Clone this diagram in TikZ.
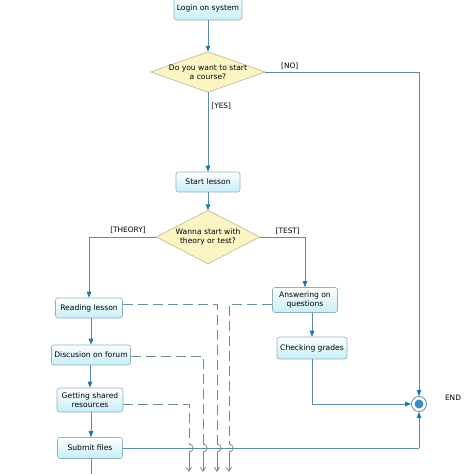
\documentclass[tikz,border=0pt]{standalone}
\usepackage{fontspec}
\setmainfont{DejaVu Sans}
\usetikzlibrary{arrows.meta,calc}
\definecolor{lineC}{HTML}{5A8DA5}
\definecolor{arrC}{HTML}{1A78B0}
\definecolor{boxB}{HTML}{8FB0BA}
\definecolor{boxF}{HTML}{C6EEF7}
\definecolor{diaF}{HTML}{FBF5C4}
\definecolor{diaB}{HTML}{BDB889}
\definecolor{dashC}{HTML}{6A8C98}
\tikzset{
  actbox/.style={draw=boxB, line width=0.6pt, rounded corners=2.5pt, top color=white, bottom color=boxF,
    align=center, inner sep=1pt, font=\fontsize{7.6}{9}\selectfont},
  decision/.style={inner sep=0pt, align=center, font=\fontsize{7.6}{9}\selectfont},
  flow/.style={draw=lineC, line width=0.8pt, -{Triangle[length=6pt,width=4.5pt,fill=arrC,color=arrC]}},
  plainflow/.style={draw=lineC, line width=0.8pt},
  dashflow/.style={draw=dashC, line width=0.8pt, dash pattern=on 10pt off 5pt},
  lbl/.style={font=\fontsize{7.4}{9}\selectfont, inner sep=0pt},
  barb/.style={draw=dashC, line width=0.8pt, -{Straight Barb[length=4pt,width=5pt]}}
}
\begin{document}
\begin{tikzpicture}[x=1pt,y=-1pt]
\useasboundingbox (0,0) rectangle (474,474);
% nodes
\node[actbox, minimum width=68pt, minimum height=24pt] (login) at (208,8) {Login on system};
\node[decision, minimum width=114pt, minimum height=40pt] (d1) at (208,72) {};
\node[actbox, minimum width=64pt, minimum height=20pt] (start) at (208,182) {Start lesson};
\node[decision, minimum width=103pt, minimum height=53pt] (d2) at (208,237) {};
\node[actbox, minimum width=67pt, minimum height=20pt] (read) at (89,308) {Reading lesson};
\node[actbox, minimum width=79pt, minimum height=20pt] (disc) at (91,355) {Discusion on forum};
\node[actbox, minimum width=66pt, minimum height=24pt] (share) at (90,400) {Getting shared\\resources};
\node[actbox, minimum width=65pt, minimum height=21pt] (submit) at (90,448) {Submit files};
\node[actbox, minimum width=65pt, minimum height=25pt] (answer) at (305,300) {Answering on\\questions};
\node[actbox, minimum width=70pt, minimum height=22pt] (check) at (312,348) {Checking grades};
\node[circle, draw=lineC, line width=0.8pt, fill=white, minimum size=15pt, inner sep=0pt] (end) at (419,404) {};
\fill[arrC!85] (end.center) circle (4.5pt);
\node[lbl] (endlbl) at (453,398) {END};
% diamonds
\path[fill=diaF, draw=diaB, line width=0.6pt] (d1.north) -- (d1.east) -- (d1.south) -- (d1.west) -- cycle;
\path[fill=diaF, draw=diaB, line width=0.6pt] (d2.north) -- (d2.east) -- (d2.south) -- (d2.west) -- cycle;
\node[decision] (d1t) at (d1) {Do you want to start\\a course?};
\node[decision] (d2t) at (d2) {Wanna start with\\theory or test?};
% coordinates
\coordinate (nocorner) at (419,72);
\coordinate (thcorner) at (89,237);
\coordinate (tscorner) at (305,237);
\coordinate (chkcorner) at (312,404);
\coordinate (subcorner) at (419,448);
% flows
\draw[flow] (login) -- (d1.north);
\draw[flow] (d1.south) -- (start.north) node[lbl, pos=0.17, right=3pt] (yes) {[YES]};
\draw[flow] (start) -- (d2.north);
\draw[plainflow] (d1.east) -- (nocorner) node[lbl, pos=0.16, above=2pt] (no) {[NO]};
\draw[flow] (nocorner) -- (end.north);
\draw[plainflow] (d2.west) -- (thcorner) node[lbl, pos=0.42, above=3pt] (th) {[THEORY]};
\draw[flow] (thcorner) -- (read.north);
\draw[plainflow] (d2.east) -- (tscorner) node[lbl, pos=0.62, above=2pt] (ts) {[TEST]};
\draw[flow] (tscorner) -- (answer.north);
\draw[flow] (read.south -| 91,0) -- (disc.north -| 91,0);
\draw[flow] (disc.south -| 90,0) -- (share.north -| 90,0);
\draw[flow] (share.south -| 91,0) -- (submit.north -| 91,0);
\draw[flow] (answer.south -| check.north) -- (check.north);
\draw[plainflow] (check.south) -- (chkcorner);
\draw[flow] (chkcorner) -- (end.west);
\draw[plainflow] (submit.east) -- (subcorner);
\draw[flow] (subcorner) -- (end.south);
\coordinate (subout) at (91,474);
\draw[plainflow] (submit.south -| 91,0) -- (subout);
% dashed object flows with jumps
\foreach \nm/\yy/\xx in {a/304/217, b/304/229, c/356/203, d/404/189}{
  \coordinate (c\nm) at (\xx,\yy);
  \coordinate (j\nm) at (\xx,444);
  \coordinate (e\nm) at (\xx,472);
}
\draw[dashflow] (read.east |- ca) -- (ca) -- (ja);
\draw[dashflow] (answer.west |- cb) -- (cb) -- (jb);
\draw[dashflow] (disc.east |- cc) -- (cc) -- (jc);
\draw[dashflow] (share.east |- cd) -- (cd) -- (jd);
\foreach \nm in {a,b,c,d}{
  \draw[draw=dashC, line width=0.8pt] (j\nm) arc[start angle=90, end angle=-90, radius=4pt];
  \draw[barb] ($(j\nm)+(0,8)$) -- (e\nm);
}
\end{tikzpicture}
\end{document}
